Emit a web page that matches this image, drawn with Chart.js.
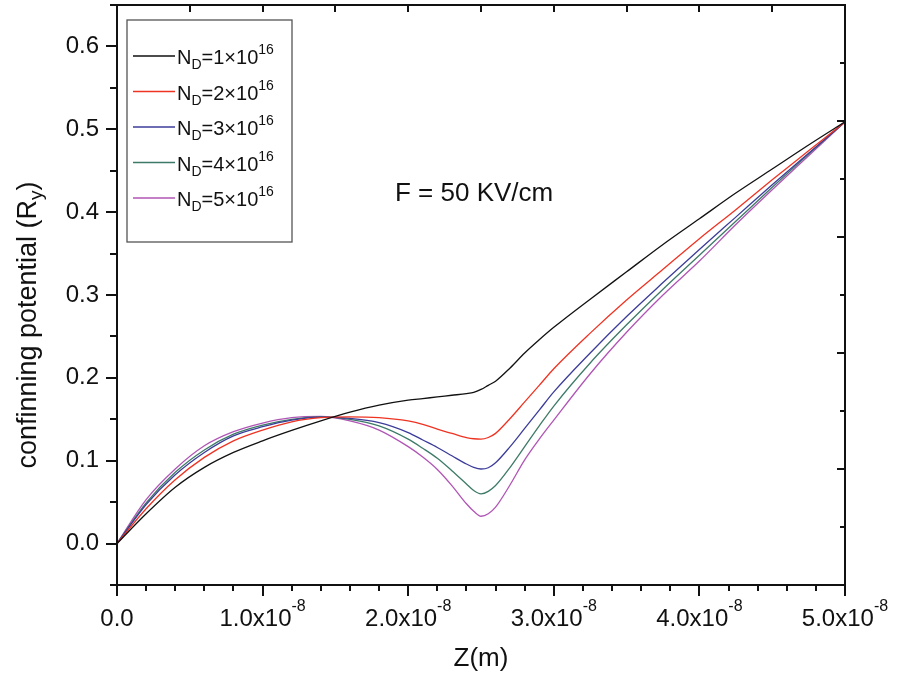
<!DOCTYPE html>
<html>
<head>
<meta charset="utf-8">
<script src="https://cdn.jsdelivr.net/npm/chart.js@4.4.0/dist/chart.umd.min.js"></script>
<style>
html, body { margin: 0; padding: 0; background: #fff; }
#wrap { width: 897px; height: 680px; }
</style>
</head>
<body>
<div id="wrap"><canvas id="myChart" width="897" height="680"></canvas></div>
<script>
// Z positions (m)
let zValues = [0, 0.2e-8, 0.4e-8, 0.6e-8, 0.8e-8, 1.0e-8, 1.2e-8, 1.4e-8, 1.6e-8, 1.8e-8,
    2.0e-8, 2.1e-8, 2.2e-8, 2.3e-8, 2.4e-8, 2.45e-8, 2.5e-8, 2.55e-8, 2.6e-8, 2.7e-8,
    2.8e-8, 2.9e-8, 3.0e-8, 3.25e-8, 3.5e-8, 3.75e-8, 4.0e-8, 4.25e-8, 4.5e-8, 4.75e-8, 5.0e-8];

// confining potential (Ry) for each donor density
let nd1 = [0, 0.036, 0.068, 0.092, 0.110, 0.124, 0.1365, 0.148, 0.1585, 0.167,
    0.173, 0.175, 0.177, 0.179, 0.181, 0.1825, 0.186, 0.191, 0.196, 0.212,
    0.230, 0.246, 0.261, 0.295, 0.328, 0.361, 0.392, 0.423, 0.452, 0.481, 0.509];
let nd2 = [0, 0.042, 0.077, 0.104, 0.124, 0.137, 0.147, 0.152, 0.153, 0.152,
    0.148, 0.144, 0.138, 0.133, 0.128, 0.1265, 0.126, 0.128, 0.133, 0.151,
    0.171, 0.191, 0.211, 0.254, 0.294, 0.331, 0.368, 0.403, 0.439, 0.474, 0.509];
let nd3 = [0, 0.047, 0.083, 0.110, 0.130, 0.141, 0.149, 0.1525, 0.151, 0.146,
    0.134, 0.125, 0.116, 0.106, 0.096, 0.092, 0.090, 0.0915, 0.0975, 0.117,
    0.139, 0.161, 0.183, 0.230, 0.274, 0.315, 0.355, 0.394, 0.433, 0.471, 0.509];
let nd4 = [0, 0.049, 0.086, 0.113, 0.132, 0.143, 0.150, 0.153, 0.150, 0.142,
    0.126, 0.115, 0.103, 0.088, 0.072, 0.064, 0.060, 0.063, 0.070, 0.092,
    0.117, 0.142, 0.166, 0.218, 0.264, 0.307, 0.348, 0.389, 0.430, 0.470, 0.509];
let nd5 = [0, 0.053, 0.090, 0.118, 0.135, 0.1455, 0.152, 0.1535, 0.148, 0.137,
    0.117, 0.1045, 0.0895, 0.070, 0.048, 0.039, 0.033, 0.036, 0.044, 0.071,
    0.101, 0.126, 0.149, 0.205, 0.255, 0.300, 0.341, 0.385, 0.427, 0.468, 0.509];

let densities = ['1', '2', '3', '4', '5'];
let colorHex = ['#111111', '#ee3322', '#3c3c9a', '#3e7a68', '#b055b5'];

let yTickValues = [0, 0.1, 0.2, 0.3, 0.4, 0.5, 0.6];
let xTickValues = [0, 1e-8, 2e-8, 3e-8, 4e-8, 5e-8];

// secondary tick marks seen on the right border
let rightMajor = [0.09, 0.23, 0.37, 0.51];
let rightMinor = [0.02, 0.16, 0.30, 0.44, 0.58];

const FONT = '"Liberation Sans", Arial, sans-serif';

// draws text pieces [text, size, dy] one after another, returns width
function richText(ctx, parts, x, y, measureOnly) {
    let w = 0;
    parts.forEach(p => {
        ctx.font = p[1] + 'px ' + FONT;
        if (!measureOnly) ctx.fillText(p[0], x + w, y + (p[2] || 0));
        w += ctx.measureText(p[0]).width;
    });
    return w;
}

let frame = {
    id: 'frame',
    afterDraw(chart) {
        const {ctx, chartArea: a, scales: {x, y}} = chart;
        ctx.save();
        ctx.strokeStyle = '#111';
        ctx.fillStyle = '#111';
        ctx.lineWidth = 2;
        ctx.strokeRect(a.left, a.top, a.right - a.left, a.bottom - a.top);

        ctx.beginPath();
        // bottom: outward ticks every 0.2e-8
        for (let i = 0; i <= 25; i++) {
            const px = Math.round(x.getPixelForValue(i * 0.2e-8));
            ctx.moveTo(px, a.bottom);
            ctx.lineTo(px, a.bottom + (i % 5 === 0 ? 11 : 6));
        }
        // top: inward ticks every 0.5e-8
        for (let i = 1; i < 10; i++) {
            const px = Math.round(x.getPixelForValue(i * 0.5e-8));
            ctx.moveTo(px, a.top);
            ctx.lineTo(px, a.top + 7);
        }
        // left: outward ticks every 0.05
        for (let i = -1; i <= 13; i++) {
            const py = Math.round(y.getPixelForValue(i * 0.05));
            ctx.moveTo(a.left, py);
            ctx.lineTo(a.left - (i % 2 === 0 ? 11 : 7), py);
        }
        // right: inward ticks
        rightMajor.forEach(v => {
            const py = Math.round(y.getPixelForValue(v));
            ctx.moveTo(a.right, py);
            ctx.lineTo(a.right - 8, py);
        });
        rightMinor.forEach(v => {
            const py = Math.round(y.getPixelForValue(v));
            ctx.moveTo(a.right, py);
            ctx.lineTo(a.right - 5, py);
        });
        ctx.stroke();

        // x tick labels with superscript exponent
        ctx.textBaseline = 'alphabetic';
        ctx.textAlign = 'left';
        x.ticks.forEach(t => {
            const px = x.getPixelForValue(t.value);
            const m = t.value / 1e-8;
            const parts = m === 0 ? [['0.0', 24]] : [[m.toFixed(1) + 'x10', 24], ['-8', 16, -15]];
            const w = richText(ctx, parts, 0, 0, true);
            richText(ctx, parts, px - w / 2, a.bottom + 41);
        });

        // x title
        ctx.font = '26px ' + FONT;
        ctx.textAlign = 'center';
        ctx.fillText('Z(m)', (a.left + a.right) / 2, 666);
        ctx.textAlign = 'left';

        // y title, rotated
        ctx.save();
        ctx.translate(28, 325);
        ctx.rotate(-Math.PI / 2);
        const yParts = [['confinning potential (R', 27], ['y', 19, 6], [')', 27]];
        const yw = richText(ctx, yParts, 0, 0, true);
        richText(ctx, yParts, -yw / 2, 8);
        ctx.restore();

        // legend
        ctx.lineWidth = 1.3;
        ctx.strokeStyle = '#555';
        ctx.strokeRect(127, 20, 165, 222);
        chart.data.datasets.forEach((ds, i) => {
            const ly = 56 + i * 35.5;
            ctx.strokeStyle = ds.borderColor;
            ctx.lineWidth = 1.3;
            ctx.beginPath();
            ctx.moveTo(133, ly);
            ctx.lineTo(175, ly);
            ctx.stroke();
            ctx.fillStyle = '#111';
            richText(ctx, [['N', 20], ['D', 14, 5], ['=' + densities[i] + '\u00d710', 20], ['16', 14, -10]], 177, ly + 8);
        });

        // field annotation
        ctx.fillStyle = '#111';
        ctx.font = '26px ' + FONT;
        ctx.fillText('F = 50 KV/cm', 395, 201);
        ctx.restore();
    }
};

let ctx = document.getElementById('myChart').getContext('2d');

let myChart = new Chart(ctx, {
    type: 'line',
    data: {
        datasets: [nd1, nd2, nd3, nd4, nd5].map((d, i) => ({
            label: 'ND=' + densities[i] + 'x10^16',
            data: zValues.map((z, j) => ({x: z, y: d[j]})),
            borderColor: colorHex[i],
            borderWidth: 1.3,
            pointRadius: 0,
            fill: false,
            cubicInterpolationMode: 'monotone'
        }))
    },
    options: {
        responsive: false,
        animation: false,
        layout: {
            padding: {top: 5, right: 52, bottom: 0, left: 0}
        },
        plugins: {
            legend: {display: false},
            tooltip: {enabled: false}
        },
        scales: {
            x: {
                type: 'linear',
                min: 0,
                max: 5e-8,
                ticks: {display: false},
                afterBuildTicks(s) {
                    s.ticks = xTickValues.map(v => ({value: v}));
                },
                grid: {display: false, drawTicks: false},
                border: {display: false},
                afterFit(s) {
                    s.height = 95;
                    s.paddingLeft = 0;
                    s.paddingRight = 0;
                }
            },
            y: {
                min: -0.05,
                max: 0.65,
                afterBuildTicks(s) {
                    s.ticks = yTickValues.map(v => ({value: v}));
                },
                ticks: {
                    padding: 18,
                    color: '#111',
                    font: {family: FONT, size: 24},
                    callback: (v) => v.toFixed(1)
                },
                grid: {display: false, drawTicks: false},
                border: {display: false},
                afterFit(s) {
                    s.width = 117;
                    s.paddingTop = 0;
                    s.paddingBottom = 0;
                }
            }
        }
    },
    plugins: [frame]
});
</script>
</body>
</html>
